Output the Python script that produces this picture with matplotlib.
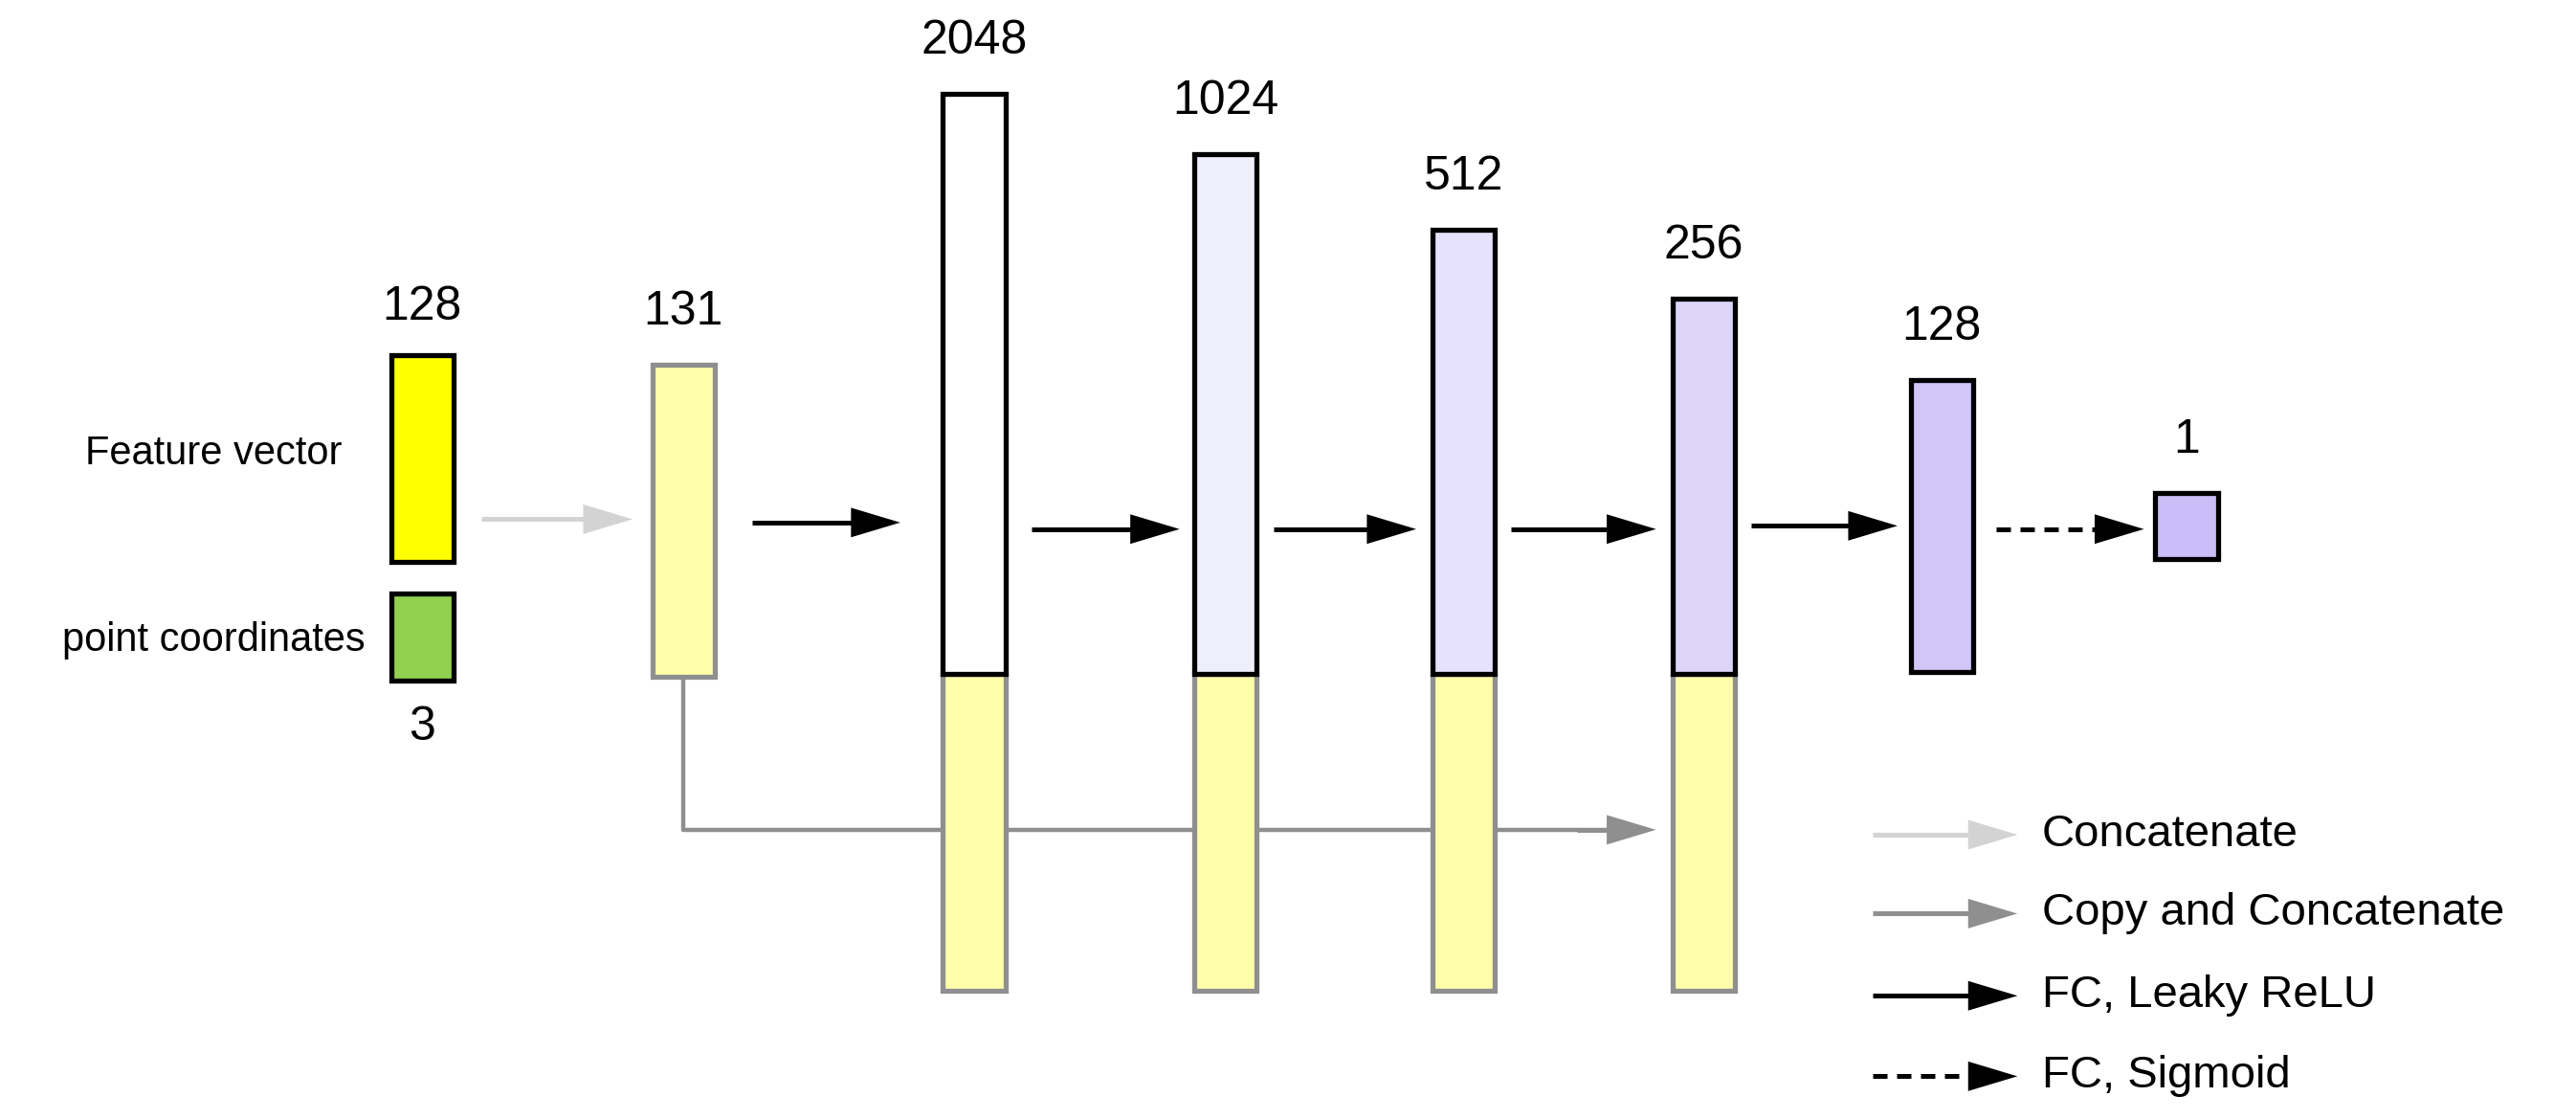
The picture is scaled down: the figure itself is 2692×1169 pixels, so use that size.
import matplotlib
matplotlib.use("Agg")
import matplotlib.pyplot as plt
from matplotlib.patches import Rectangle, Polygon

plt.rcParams['font.family'] = ['Liberation Sans', 'DejaVu Sans']

# layer sizes and their bar geometry (diagram units, y grows downward)
sizes = ["2048", "1024", "512", "256", "128", "1"]
bar_x = [574, 727, 872, 1018, 1163, 1312]
bar_top = [57, 94, 140, 182, 231, 300]
bar_bottom = [410, 410, 410, 410, 409, 340]
bar_fill = ["#ffffff", "#efeefd", "#e6e1fc", "#ddd5fa", "#d2c6f8", "#cbbdf7"]
has_copy = [True, True, True, True, False, False]
W = 38
COPY_FILL = "#ffffaa"
GRAY = "#8f8f8f"
LIGHT = "#d3d3d3"

legend_labels = ["Concatenate", "Copy and Concatenate", "FC, Leaky ReLU", "FC, Sigmoid"]
legend_y = [508, 556, 606, 655]

fig = plt.figure(figsize=(26.92, 11.69), dpi=100)
ax = fig.add_axes([0, 0, 1, 1])
ax.set_xlim(0, 1568)
ax.set_ylim(681, 0)
ax.axis('off')


def box(x, y0, y1, fc, ec="black"):
    ax.add_patch(Rectangle((x, y0), W, y1 - y0, facecolor=fc, edgecolor=ec, lw=3.8, zorder=2))


def arrow(x0, x1, y, color="black", ls="-"):
    hl, hw = 30, 9
    ax.plot([x0, x1 - hl + 2], [y, y], color=color, lw=3.6, ls=ls, solid_capstyle='butt', zorder=3)
    ax.add_patch(Polygon([[x1 - hl, y - hw], [x1, y], [x1 - hl, y + hw]], closed=True,
                         facecolor=color, edgecolor=color, lw=0, zorder=3))


# inputs
box(238, 216, 342, "#ffff00")
box(238, 361, 414, "#92d050")
ax.text(257, 187, "128", ha='center', va='center', fontsize=36)
ax.text(257, 443, "3", ha='center', va='center', fontsize=36)
ax.text(208, 276, "Feature vector", ha='right', va='center', fontsize=30)
ax.text(222, 390, "point coordinates", ha='right', va='center', fontsize=30)

# concatenated input
box(397, 222, 412, COPY_FILL, GRAY)
ax.text(416, 190, "131", ha='center', va='center', fontsize=36)

# copy line
ax.plot([416, 416, 980], [412, 505, 505], color=GRAY, lw=3.2, zorder=1)
arrow(960, 1008, 505, GRAY)

for i, s in enumerate(sizes):
    x = bar_x[i]
    if has_copy[i]:
        box(x, 410, 603, COPY_FILL, GRAY)
    box(x, bar_top[i], bar_bottom[i], bar_fill[i])
    ax.text(x + W / 2, bar_top[i] - 32, s, ha='center', va='center', fontsize=36)

# flow arrows
arrow(293, 385, 316, LIGHT)
arrow(458, 548, 318)
arrow(628, 718, 322)
arrow(775, 862, 322)
arrow(920, 1008, 322)
arrow(1066, 1155, 320)
arrow(1215, 1305, 322, ls=(0, (3, 2)))

# legend
styles = [(LIGHT, "-"), (GRAY, "-"), ("black", "-"), ("black", (0, (3, 2)))]
for (c, ls), lab, y in zip(styles, legend_labels, legend_y):
    arrow(1140, 1228, y, c, ls)
    ax.text(1243, y, lab, ha='left', va='center', fontsize=34)

fig.savefig("out.png", dpi=100)
